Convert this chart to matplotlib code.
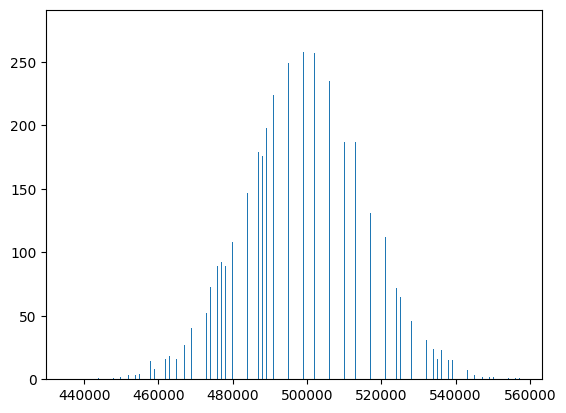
import matplotlib
matplotlib.use("Agg")
import matplotlib.pyplot as plt

# bar positions (left edges) and counts
positions = [443800, 447800, 449700, 451800, 453700, 454800, 457800, 458800,
             461800, 462900, 464800, 466900, 468800, 472800, 473900, 475800,
             476900, 477900, 479800, 483900, 486800, 487900, 489000, 490900,
             494900, 498900, 501900, 505900, 510000, 512900, 517000, 521000,
             523900, 525000, 528000, 532000, 533900, 535000, 536100, 537900,
             539000, 543000, 544900, 547100, 549000, 550000, 554100, 556000,
             557000]
counts = [1, 1, 2, 3, 3, 4, 14, 8,
          16, 18, 16, 27, 40, 52, 73, 89,
          92, 89, 108, 147, 179, 176, 198, 224,
          249, 258, 257, 235, 187, 187, 131, 112,
          72, 65, 46, 31, 24, 16, 23, 15,
          15, 7, 3, 2, 2, 2, 1, 1,
          1]

x_min, x_max = 429780, 563280
y_max = 291

fig, ax = plt.subplots(figsize=(6.4, 4.8), dpi=100)
ax.bar(positions, counts, width=270, align='edge', color='C0', linewidth=0)
ax.set_xlim(x_min, x_max)
ax.set_ylim(0, y_max)

fig.savefig("out.png", dpi=100, bbox_inches='tight')
